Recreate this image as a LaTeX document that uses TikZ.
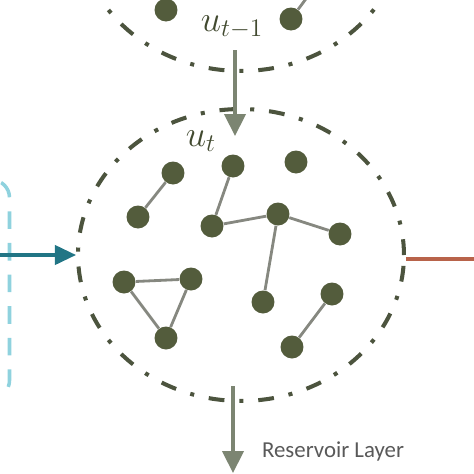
\documentclass[tikz,border=0pt]{standalone}
\usepackage{fontspec}
\newfontfamily\layerfont{Carlito}
\usetikzlibrary{arrows.meta,shapes.geometric}
\definecolor{unitgreen}{RGB}{83,92,60}
\definecolor{poolgreen}{RGB}{76,84,62}
\definecolor{linkgray}{RGB}{134,136,128}
\definecolor{flowgray}{RGB}{124,133,114}
\definecolor{feedteal}{RGB}{33,117,133}
\definecolor{inputblue}{RGB}{143,210,222}
\definecolor{readred}{RGB}{184,99,74}
\begin{document}
\begin{tikzpicture}[x=0.02cm,y=-0.02cm,
  unit/.style={circle,fill=unitgreen,minimum size=0.46cm,inner sep=0pt},
  link/.style={draw=linkgray,line width=1.6pt},
  pool/.style={ellipse,draw=poolgreen,line width=2.3pt,inner sep=0pt,
    dash pattern=on 9pt off 8.5pt on 2.3pt off 8.5pt,
    minimum width=6.52cm,minimum height=5.84cm},
  flow/.style={draw=flowgray,line width=2.2pt,-{Triangle[length=12.5pt,width=12pt]}},
  state/.style={text=unitgreen!80!black,font=\fontsize{20}{24}\selectfont}]
  \clip (0,0) rectangle (474,474);
  % previous reservoir
  \node[pool] (prev) at (241,-75) {};
  \node[unit] (p1) at (166,10) {};
  \node[unit] (p2) at (291,19) {};
  \coordinate (p3) at (314,-12);
  \draw[link] (p2)--(p3);
  \node[state] (uprev) at (232,27) {$u_{t-1}$};
  % current reservoir
  \node[pool] (pool) at (241,255) {};
  \node[state] (ucur) at (201,141) {$u_t$};
  \node[unit] (r1) at (173,173) {};
  \node[unit] (r2) at (138,217) {};
  \node[unit] (r3) at (233,166) {};
  \node[unit] (r4) at (296,162) {};
  \node[unit] (r5) at (212,226) {};
  \node[unit] (r6) at (278,214) {};
  \node[unit] (r7) at (340,234) {};
  \node[unit] (r8) at (124,282) {};
  \node[unit] (r9) at (191,279) {};
  \node[unit] (r10) at (263,302) {};
  \node[unit] (r11) at (332,294) {};
  \node[unit] (r12) at (166,338) {};
  \node[unit] (r13) at (292,347) {};
  \draw[link] (r1)--(r2);
  \draw[link] (r3)--(r5)--(r6)--(r7);
  \draw[link] (r6)--(r10);
  \draw[link] (r8)--(r9)--(r12)--(r8);
  \draw[link] (r11)--(r13);
  % time step arrows
  \coordinate (a1) at (235,50);
  \coordinate (a2) at (235,136);
  \draw[flow] (a1)--(a2);
  \coordinate (b1) at (233,386);
  \coordinate (b2) at (233,473);
  \draw[flow] (b1)--(b2);
  \node[text=black!65,font=\layerfont\fontsize{13}{15}\selectfont] (name) at (333,451) {Reservoir Layer};
  % input and readout
  \draw[inputblue,line width=2pt,dash pattern=on 10pt off 8pt,rounded corners=10pt]
    (-30,180) -- (9.5,180) -- (9.5,398) -- (-30,398);
  \coordinate (in) at (0,255);
  \draw[feedteal,line width=1.8pt,-{Triangle[length=12pt,width=11pt]}] (in)--(pool.west);
  \coordinate (out) at (474,259);
  \draw[readred,line width=2pt] (pool.east |- out)--(out);
\end{tikzpicture}
\end{document}
